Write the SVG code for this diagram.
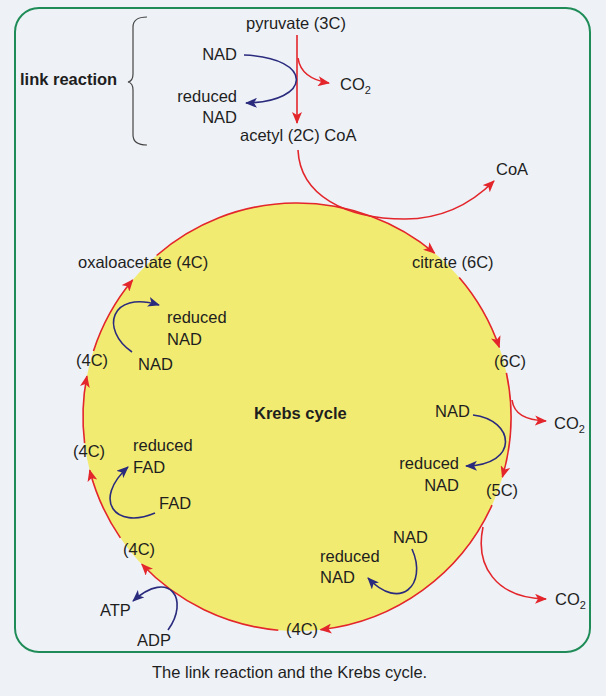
<svg xmlns="http://www.w3.org/2000/svg" width="606" height="696" viewBox="0 0 606 696">
<defs>
<style>
text{font-family:"Liberation Sans",Arial,sans-serif;font-size:16.5px;fill:#1e1e1e}
.b{font-weight:bold}
.sub{font-size:11px}
.red{fill:none;stroke:#e3262b;stroke-width:1.6;marker-end:url(#ra)}
.blue{fill:none;stroke:#2b2b7e;stroke-width:1.6;marker-end:url(#ba)}
</style>
<marker id="ra" viewBox="0 0 12 10" refX="11" refY="5" markerWidth="12" markerHeight="10" markerUnits="userSpaceOnUse" orient="auto">
<path d="M0,0 L12,5 L0,10 L3,5 z" fill="#e3262b"/>
</marker>
<marker id="ba" viewBox="0 0 12 10" refX="11" refY="5" markerWidth="12" markerHeight="10" markerUnits="userSpaceOnUse" orient="auto">
<path d="M0,0 L12,5 L0,10 L3,5 z" fill="#2b2b7e"/>
</marker>
</defs>
<rect x="0" y="0" width="606" height="696" fill="#eef2f7"/>
<rect id="frame" x="15" y="8" width="575" height="644" rx="24" fill="none" stroke="#1f8c58" stroke-width="2"/>
<circle id="krebs-area" cx="297" cy="417" r="214" fill="#f2eb72"/>
<path id="brace" d="M147,17 Q133,17 133,27 L133,74 Q133,81 128,82 Q133,83 133,90 L133,135 Q133,145 147,145" fill="none" stroke="#444" stroke-width="1.2"/>
<g id="connectors">
<path class="red" d="M297,35 L297,123"/>
<path class="red" d="M298,58 C300,72 310,80 329,83"/>
<path class="red" d="M298,150 C300,195 345,219 405,219 C440,219 470,205 494,181"/>
<path class="red" d="M156.6,255.5 A214,214 0 0 1 434.6,253.1"/>
<path class="red" d="M459.2,277.4 A214,214 0 0 1 499.3,347.3"/>
<path class="red" d="M506.4,372.9 A214,214 0 0 1 502.4,477.1"/>
<path class="red" d="M512,400 C514,414 525,420 546,421"/>
<path class="red" d="M492,505.1 A214,214 0 0 1 320.5,629.7"/>
<path class="red" d="M483,527 C475,565 495,598 546,599"/>
<path class="red" d="M278.3,630.2 A214,214 0 0 1 141.8,564.3"/>
<path class="red" d="M120.4,537.9 A214,214 0 0 1 89.7,470.2"/>
<path class="red" d="M84.6,443.1 A214,214 0 0 1 86.9,376.2"/>
<path class="red" d="M93.5,350.9 A214,214 0 0 1 132.6,280"/>
<path class="blue" d="M244,55 C315,58 312,102 246,103"/>
<path class="blue" d="M132,352 C100,330 110,290 159,305"/>
<path class="blue" d="M473,415 C515,420 520,465 466,466"/>
<path class="blue" d="M155,513 C115,530 92,500 128,467"/>
<path class="blue" d="M168,630 C190,600 170,568 133,601"/>
<path class="blue" d="M412,549 C428,585 400,612 368,578"/>
</g>
<g id="link-reaction"><text class="b" x="20" y="85">link reaction</text></g>
<g id="pyruvate"><text x="246" y="29">pyruvate (3C)</text></g>
<g id="nad-link"><text x="237" y="60" text-anchor="end">NAD</text></g>
<g id="co2-link"><text x="340" y="90">CO<tspan class="sub" dy="4">2</tspan></text></g>
<g id="rnad-link"><text x="237" y="102" text-anchor="end">reduced</text><text x="237" y="123" text-anchor="end">NAD</text></g>
<g id="acetyl"><text x="240" y="141">acetyl (2C) CoA</text></g>
<g id="coa"><text x="496" y="175">CoA</text></g>
<g id="oxaloacetate"><text x="78" y="268">oxaloacetate (4C)</text></g>
<g id="citrate"><text x="412" y="268">citrate (6C)</text></g>
<g id="rnad1"><text x="167" y="323">reduced</text><text x="167" y="345">NAD</text></g>
<g id="c4a"><text x="76" y="366">(4C)</text></g>
<g id="nad1"><text x="138" y="370">NAD</text></g>
<g id="c6"><text x="494" y="367">(6C)</text></g>
<g id="krebs"><text class="b" x="254" y="419">Krebs cycle</text></g>
<g id="nad2"><text x="435" y="417">NAD</text></g>
<g id="co2a"><text x="554" y="429">CO<tspan class="sub" dy="4">2</tspan></text></g>
<g id="c4b"><text x="73" y="457">(4C)</text></g>
<g id="rfad"><text x="133" y="451">reduced</text><text x="133" y="473">FAD</text></g>
<g id="rnad2"><text x="459" y="469" text-anchor="end">reduced</text><text x="459" y="491" text-anchor="end">NAD</text></g>
<g id="c5"><text x="486" y="496">(5C)</text></g>
<g id="fad"><text x="159" y="509">FAD</text></g>
<g id="nad3"><text x="393" y="543">NAD</text></g>
<g id="c4c"><text x="123" y="555">(4C)</text></g>
<g id="rnad3"><text x="320" y="562">reduced</text><text x="320" y="583">NAD</text></g>
<g id="atp"><text x="100" y="616">ATP</text></g>
<g id="adp"><text x="137" y="646">ADP</text></g>
<g id="co2b"><text x="555" y="605">CO<tspan class="sub" dy="4">2</tspan></text></g>
<g id="c4d"><text x="286" y="635">(4C)</text></g>
<g id="caption"><text x="152" y="678">The link reaction and the Krebs cycle.</text></g>
</svg>
